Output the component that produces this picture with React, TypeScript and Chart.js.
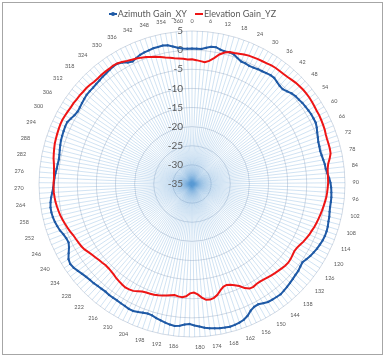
import React, { useEffect, useRef } from 'react';
import { Chart, registerables } from 'chart.js';

Chart.register(...registerables);

// Angle categories in degrees: 0, 2, 4, ..., 360
const categories: string[] = Array.from({ length: 181 }, (_, i) => String(i * 2));

// Radial tick labels (dB)
const radialTicks: number[] = [5, 0, -5, -10, -15, -20, -25, -30, -35];

const seriesNames: string[] = ['Azimuth Gain_XY', 'Elevation Gain_YZ'];

// Azimuth Gain_XY (dB), one value per category
const azimuthGain: number[] = [
  0.4, 0.4, 0.4, 0.8, 1.2, 1.3, 0.9, 0.7, 0.8, 0.6,
  0.0, -0.5, -0.5, -0.7, -0.6, -0.4, -0.3, -0.1, 0.1, 0.1,
  -0.3, -0.6, -0.7, -0.3, 0.2, 0.5, 0.6, 0.8, 0.9, 1.0,
  1.1, 1.1, 1.1, 0.8, 0.4, 0.1, -0.2, -0.3, -0.4, -0.3,
  -0.1, 0.1, 0.2, 0.5, 0.9, 1.2, 1.4, 1.5, 1.6, 1.6,
  1.6, 1.7, 1.9, 2.0, 2.2, 2.3, 2.3, 2.2, 2.0, 1.8,
  1.5, 1.2, 0.8, 0.4, 0.6, 0.9, 1.0, 1.2, 1.4, 1.6,
  1.8, 2.0, 1.9, 1.8, 1.7, 1.3, 0.9, 1.0, 1.5, 2.4,
  3.0, 3.3, 3.5, 3.6, 3.5, 3.4, 3.2, 3.0, 2.7, 2.3,
  2.0, 1.6, 1.8, 2.2, 2.4, 2.2, 1.9, 1.6, 1.3, 0.9,
  0.8, 1.0, 1.3, 1.6, 1.6, 1.4, 1.3, 1.2, 1.2, 1.2,
  1.1, 1.2, 1.3, 1.5, 1.6, 1.8, 2.1, 2.5, 2.9, 3.1,
  2.8, 2.0, 1.2, 0.7, 0.8, 1.1, 1.6, 1.9, 2.2, 2.4,
  2.5, 2.5, 2.3, 2.0, 1.6, 1.3, 1.1, 1.0, 0.8, 0.6,
  0.5, 0.4, 0.5, 0.7, 0.9, 1.1, 1.2, 1.3, 1.4, 1.4,
  1.0, 0.6, 0.4, 0.5, 0.7, 0.9, 1.1, 1.1, 1.1, 1.2,
  1.3, 1.5, 1.6, 1.8, 2.0, 2.0, 1.6, 0.9, 0.6, 1.0,
  1.4, 1.6, 1.7, 1.9, 1.9, 2.0, 1.8, 1.3, 0.8, 0.5,
  0.4,
];

// Elevation Gain_YZ (dB), one value per category
const elevationGain: number[] = [
  -2.4, -2.6, -2.8, -3.0, -2.5, -1.6, -0.4, 0.4, 0.9, 1.0,
  1.2, 1.5, 1.7, 1.8, 1.9, 2.0, 2.1, 2.3, 2.4, 2.4,
  2.4, 2.5, 2.7, 2.9, 3.0, 3.1, 3.1, 3.1, 3.0, 2.9,
  2.8, 2.8, 2.7, 2.6, 2.5, 2.3, 2.2, 2.2, 2.2, 2.1,
  1.6, 1.0, 0.7, 0.6, 0.6, 0.6, 0.5, 0.4, 0.3, 0.1,
  -0.1, -0.3, -0.5, -0.7, -0.9, -1.1, -1.4, -1.6, -1.9, -2.2,
  -2.6, -2.9, -3.0, -2.8, -2.6, -2.5, -2.6, -2.8, -3.0, -3.2,
  -3.4, -3.6, -3.8, -3.9, -3.9, -3.7, -3.8, -4.5, -5.6, -6.3,
  -6.8, -7.1, -6.9, -6.2, -5.3, -4.7, -4.4, -4.5, -5.2, -6.1,
  -6.6, -6.4, -5.6, -5.3, -5.4, -5.6, -5.4, -5.1, -4.8, -4.6,
  -4.4, -4.3, -4.2, -4.0, -3.6, -3.1, -2.9, -2.8, -3.0, -3.2,
  -3.4, -3.7, -3.9, -4.0, -4.0, -3.8, -3.6, -3.3, -3.0, -2.6,
  -2.1, -1.8, -1.6, -1.4, -1.2, -0.8, -0.5, -0.2, 0.1, 0.4,
  0.6, 0.8, 1.0, 1.1, 1.2, 1.2, 1.2, 1.1, 1.2, 1.3,
  1.5, 1.8, 2.0, 2.2, 2.4, 2.5, 2.6, 2.7, 2.8, 2.8,
  2.7, 2.6, 2.5, 2.5, 2.4, 2.4, 2.3, 2.3, 2.2, 2.0,
  2.0, 2.1, 2.1, 2.1, 2.2, 2.1, 1.8, 1.4, 1.1, 0.9,
  0.6, 0.3, -0.1, -0.4, -0.8, -1.2, -1.5, -1.8, -2.0, -2.2,
  -2.4,
];

const BLUE = '#1f5aa6';
const RED = '#ee1515';
const TEXT = '#595959';

const labelPlugin = {
  id: 'excelLabels',
  beforeDatasetsDraw(chart: any) {
    const scale = chart.scales.r;
    const ctx = chart.ctx as CanvasRenderingContext2D;
    ctx.save();
    ctx.fillStyle = TEXT;
    ctx.font = '10px Lato';
    ctx.textAlign = 'right';
    ctx.textBaseline = 'middle';
    radialTicks.forEach((t) => {
      const d = scale.getDistanceFromCenterForValue(t);
      ctx.fillText(String(t), scale.xCenter - 9, scale.yCenter - d);
    });
    ctx.font = '5.5px Lato';
    ctx.textAlign = 'center';
    ctx.textBaseline = 'middle';
    const h = 5.5;
    categories.forEach((c, i) => {
      if (i % 3 !== 0) return;
      const p = scale.getPointPosition(i, scale.drawingArea + 7.5);
      const a = scale.getIndexAngle(i);
      const s = Math.sin(a);
      const co = Math.cos(a);
      const w = ctx.measureText(c).width;
      let dx: number;
      if (s < -0.001) {
        dx = -8 + 4 * Math.max(0, -co);
      } else {
        dx = 2 * Math.max(0, co) * Math.min(1, s * 8) + 5 * Math.max(0, -co);
      }
      const x = p.x + (s * w) / 2 + dx;
      const y = p.y - (co * h) / 2;
      ctx.fillText(c, x, y);
    });
    ctx.restore();
  },
};

export default function App() {
  const canvasRef = useRef<HTMLCanvasElement | null>(null);

  useEffect(() => {
    const canvas = canvasRef.current;
    if (!canvas) return;
    const chart = new Chart(canvas, {
      type: 'radar',
      data: {
        labels: categories,
        datasets: [
          {
            label: seriesNames[1],
            data: elevationGain,
            borderColor: RED,
            backgroundColor: RED,
            borderWidth: 2,
            pointRadius: 0,
            fill: false,
            tension: 0,
          },
          {
            label: seriesNames[0],
            data: azimuthGain,
            borderColor: BLUE,
            backgroundColor: BLUE,
            borderWidth: 2,
            pointRadius: 1.1,
            pointBorderWidth: 0,
            pointBackgroundColor: BLUE,
            fill: false,
            tension: 0,
          },
        ],
      },
      options: {
        responsive: false,
        animation: false,
        devicePixelRatio: 1,
        layout: { padding: { left: 39, right: 40, top: 31, bottom: 20 } },
        plugins: { legend: { display: false }, tooltip: { enabled: false } },
        scales: {
          r: {
            min: -35,
            max: 5,
            ticks: { stepSize: 5, display: false },
            pointLabels: { display: false },
            grid: { circular: true, color: '#d3dae4', lineWidth: 1 },
            angleLines: { color: 'rgba(91,155,213,0.28)', lineWidth: 1 },
          },
        },
      },
      plugins: [labelPlugin],
    });
    return () => chart.destroy();
  }, []);

  const legendText: React.CSSProperties = {
    fontFamily: 'Lato',
    fontSize: '9px',
    color: TEXT,
    whiteSpace: 'nowrap',
  };

  return (
    <div style={{ position: 'fixed', left: 0, top: 0, width: 385, height: 357, background: '#fff' }}>
      <canvas ref={canvasRef} width={385} height={357} style={{ position: 'absolute', left: 0, top: 0 }} />
      <div
        style={{
          position: 'absolute',
          left: 2,
          top: 2,
          width: 379,
          height: 351,
          border: '1px solid #a6a6a6',
          pointerEvents: 'none',
        }}
      />
      <div
        style={{
          position: 'absolute',
          left: 0,
          top: 8,
          width: 385,
          display: 'flex',
          justifyContent: 'center',
          alignItems: 'center',
          gap: 8,
        }}
      >
        <div style={{ display: 'flex', alignItems: 'center' }}>
          <span style={{ position: 'relative', display: 'inline-block', width: 8, height: 2, background: BLUE, marginRight: 1 }}>
            <span
              style={{
                position: 'absolute',
                left: 2,
                top: -1,
                width: 4,
                height: 4,
                borderRadius: 2,
                background: BLUE,
              }}
            />
          </span>
          <span style={legendText}>{seriesNames[0]}</span>
        </div>
        <div style={{ display: 'flex', alignItems: 'center' }}>
          <span style={{ display: 'inline-block', width: 8, height: 2, background: RED, marginRight: 1 }} />
          <span style={legendText}>{seriesNames[1]}</span>
        </div>
      </div>
    </div>
  );
}
